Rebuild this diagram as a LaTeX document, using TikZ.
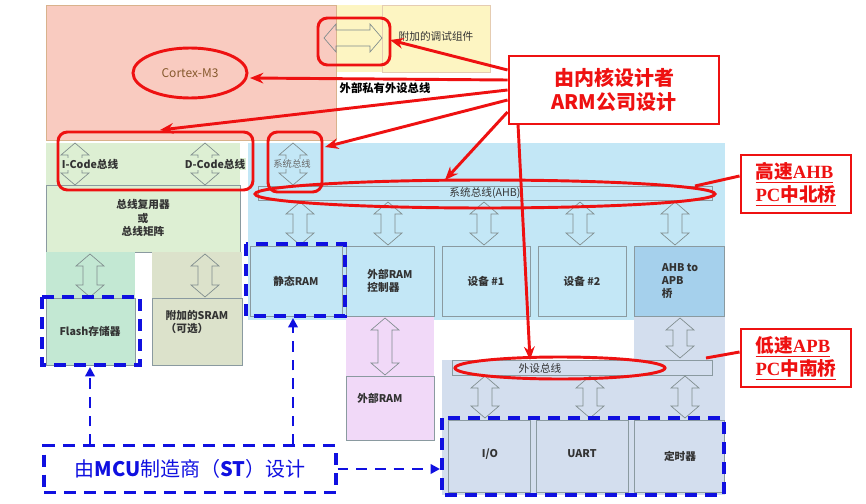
\documentclass[tikz,border=0pt]{standalone}
\usepackage{fontspec}
\setmainfont{Noto Sans CJK SC}
\newfontfamily\serifl{Liberation Serif}
\usetikzlibrary{arrows.meta}
\definecolor{pinkc}{HTML}{F9CBC0}
\definecolor{yelc}{HTML}{FDF5C2}
\definecolor{grnc}{HTML}{DDEFD3}
\definecolor{bluc}{HTML}{C3E7F6}
\definecolor{dbluc}{HTML}{A5D0EC}
\definecolor{flc}{HTML}{C3E8D3}
\definecolor{src}{HTML}{DCE2CB}
\definecolor{purc}{HTML}{F1D9F8}
\definecolor{gbc}{HTML}{D3DEEE}
\definecolor{edgec}{HTML}{8A9AA0}
\definecolor{arc}{HTML}{7F8C8D}
\definecolor{redc}{HTML}{EE1111}
\definecolor{bluel}{HTML}{1010E0}
\newcommand\vda[3]{\draw[arc,line width=0.5pt] (#1,#2) -- (#1+14,#2+12) -- (#1+7,#2+12) -- (#1+7,#3-12) -- (#1+14,#3-12) -- (#1,#3) -- (#1-14,#3-12) -- (#1-7,#3-12) -- (#1-7,#2+12) -- (#1-14,#2+12) -- cycle;}
\begin{document}
\begin{tikzpicture}[x=0.75pt,y=-0.75pt,
 box/.style={draw=edgec,line width=0.5pt},
 lbl/.style={font=\fontsize{8}{10}\selectfont\bfseries,text=black!80,align=center},
 redl/.style={draw=redc,line width=2.2pt},
 redar/.style={redc,line width=2.2pt,-{Stealth[length=10pt,width=8pt]}},
 bdash/.style={draw=bluel,line width=2.6pt,dash pattern=on 9pt off 6pt},
 bdar/.style={bluel,line width=2.2pt,dash pattern=on 8pt off 6pt,-{Triangle[length=7pt,width=7pt]}}]
\useasboundingbox (0,0) rectangle (866,503);
% backgrounds
\fill[pinkc] (46,5) rectangle (336,140);
\draw[box,draw=brown!60] (46,5) rectangle (336,140);
\fill[yelc] (337,5) rectangle (490,72);
\draw[box,draw=brown!40] (382,5) rectangle (490,72);
\node[lbl,font=\fontsize{8}{10}\selectfont] (dbg) at (436,36) {附加的调试组件};
\fill[grnc] (46,143) rectangle (240,252);
\draw[box] (46,185) rectangle (240,252);
\node[lbl] (mux) at (143,218) {总线复用器\\或\\总线矩阵};
\fill[bluc] (248,143) rectangle (725,320);
\fill[flc] (46,252) rectangle (135,365);
\fill[src] (152,252) rectangle (242,365);
\fill[purc] (346,316) rectangle (434,440);
\fill[gbc] (634,316) rectangle (725,360);
\fill[gbc] (442,360) rectangle (725,495);
% debug arrow (horizontal)
\draw[arc,line width=0.5pt] (324,38) -- (336,24) -- (336,30) -- (370,30) -- (370,24) -- (382,38) -- (370,52) -- (370,46) -- (336,46) -- (336,52) -- cycle;
\node (cm3) at (190,73) {\fontsize{9}{10}\selectfont\color{brown!70!black}Cortex-M3};
\node[font=\fontsize{8.5}{10}\selectfont\bfseries] (ppb) at (385,88) {外部私有外设总线};
% bus arrows top
\vda{75}{143}{185}
\vda{205}{143}{185}
\vda{293}{143}{185}
\node[lbl,fill=grnc,inner sep=0.5pt] (ic) at (90,164) {I-Code总线};
\node[lbl,fill=grnc,inner sep=0.5pt] (dc) at (215,164) {D-Code总线};
\node[lbl,font=\fontsize{7}{8}\selectfont,text=black!60,fill=bluc,inner sep=0.5pt] (sb) at (292,164) {系统总线};
% AHB bar
\draw[box] (258,186) rectangle (712,200);
\node[lbl,font=\fontsize{8}{9}\selectfont] (ahb) at (485,193) {系统总线(AHB)};
\foreach \x in {300,388,484,580,675} {\vda{\x}{202}{245}}
\draw[box] (250,246) rectangle (342,316);
\node[lbl] (sram) at (296,281) {静态RAM};
\draw[box] (346,246) rectangle (434,316);
\node[lbl,align=left] (emc) at (390,281) {外部RAM\\控制器};
\draw[box] (442,246) rectangle (530,316);
\node[lbl] (d1) at (486,281) {设备 \#1};
\draw[box] (538,246) rectangle (626,316);
\node[lbl] (d2) at (582,281) {设备 \#2};
\fill[dbluc] (634,246) rectangle (724,316);
\draw[box] (634,246) rectangle (724,316);
\node[lbl,align=left] (br) at (680,281) {AHB to\\APB\\桥};
% lower left
\vda{90}{254}{297}
\vda{205}{254}{297}
\draw[box] (46,298) rectangle (135,365);
\node[lbl] (fl) at (90,331) {Flash存储器};
\draw[box] (152,298) rectangle (242,365);
\node[lbl,align=left] (asr) at (197,322) {附加的SRAM\\（可选）};
% ext RAM
\vda{385}{318}{375}
\draw[box] (346,376) rectangle (434,440);
\node[lbl] (eram) at (380,398) {外部RAM};
\vda{680}{318}{358}
% APB
\draw[box] (452,360) rectangle (712,375);
\node[lbl,font=\fontsize{8}{9}\selectfont] (apb) at (540,368) {外设总线};
\foreach \x in {485,590,685} {\vda{\x}{376}{418}}
\draw[box] (448,420) rectangle (530,492);
\node[lbl] (io) at (490,454) {I/O};
\draw[box] (536,420) rectangle (628,492);
\node[lbl] (ua) at (582,454) {UART};
\draw[box] (634,420) rectangle (724,492);
\node[lbl] (tm) at (680,456) {定时器};
% red highlights
\draw[redl,rounded corners=7pt] (318,18) rectangle (390,65);
\draw[redl] (190,73) ellipse (57 and 25);
\draw[redl,rounded corners=7pt] (58,132) rectangle (253,190);
\draw[redl,rounded corners=7pt] (268,132) rectangle (322,192);
\draw[redl] (485,194) ellipse (230 and 14);
\draw[redl] (560,368) ellipse (105 and 11);
\node[redl,fill=white,minimum width=210pt*0.75,minimum height=68pt*0.75,align=center,font=\fontsize{15}{18}\selectfont\bfseries,text=redc] (arm) at (614,90) {由内核设计者\\ARM公司设计};
\coordinate (c1) at (390,40);
\coordinate (c2) at (250,78);
\coordinate (c3) at (160,130);
\coordinate (c4) at (325,147);
\coordinate (c5) at (445,180);
\coordinate (c6) at (530,360);
\draw[redar] (arm.west |- 0,70) -- (c1);
\draw[redar] (arm.west |- 0,80) -- (c2);
\draw[redar] (arm.west |- 0,90) -- (c3);
\draw[redar] (arm.west |- 0,100) -- (c4);
\draw[redar] (arm.west |- 0,112) -- (c5);
\draw[redar] (518,124) -- (c6);
% right labels
\node[redl,minimum width=110pt*0.75,minimum height=58pt*0.75,align=left,font=\fontsize{14}{17}\selectfont\bfseries,text=redc] (hs) at (796,184) {\underline{高速{\serifl AHB}}\\\underline{{\serifl PC}中北桥}};
\node[redl,minimum width=110pt*0.75,minimum height=58pt*0.75,align=left,font=\fontsize{14}{17}\selectfont\bfseries,text=redc] (ls) at (796,358) {\underline{低速{\serifl APB}}\\\underline{{\serifl PC}中南桥}};
\coordinate (h1) at (695,186);
\coordinate (l1) at (706,358);
\draw[redl] (hs.west) ++(0,-8) -- (h1);
\draw[redl] (ls.west) ++(0,-6) -- (l1);
% blue dashed
\draw[bdash] (246,244) rectangle (345,316);
\draw[bdash] (42,297) rectangle (140,365);
\draw[bdash] (442,418) rectangle (724,495);
\node[bdash,minimum width=292pt*0.75,minimum height=47pt*0.75,font=\fontsize{15}{18}\selectfont,text=bluel] (st) at (190,469) {由\textbf{MCU}制造商（\textbf{ST}）设计};
\coordinate (b1) at (90,367);
\coordinate (b2) at (293,318);
\coordinate (b3) at (440,469);
\draw[bdar] (90,445) -- (b1);
\draw[bdar] (293,445) -- (b2);
\draw[bdar] (st.east) -- (b3);
\end{tikzpicture}
\end{document}
